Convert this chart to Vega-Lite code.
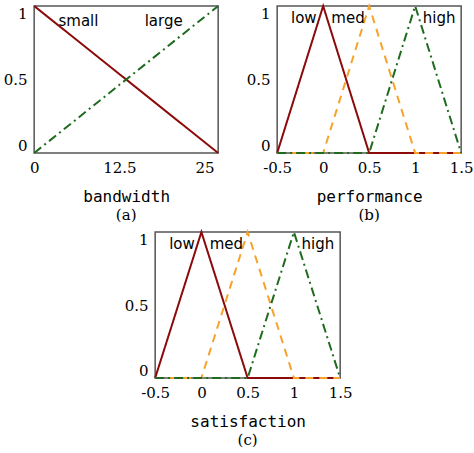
{
  "$schema": "https://vega.github.io/schema/vega-lite/v6.json",
  "padding": {"left": 2, "top": 1, "right": 4, "bottom": 0},
  "background": "white",
  "datasets": {
    "bw": [
      {"x": 0, "y": 1, "s": "small"}, {"x": 27, "y": 0, "s": "small"},
      {"x": 0, "y": 0, "s": "large"}, {"x": 27, "y": 1, "s": "large"}
    ],
    "bwlab": [
      {"x": 6.5, "y": 0.9, "t": "small"}, {"x": 19, "y": 0.9, "t": "large"}
    ],
    "tri": [
      {"x": -0.5, "y": 0, "s": "low"}, {"x": 0, "y": 1, "s": "low"}, {"x": 0.5, "y": 0, "s": "low"}, {"x": 1.5, "y": 0, "s": "low"},
      {"x": -0.5, "y": 0, "s": "med"}, {"x": 0, "y": 0, "s": "med"}, {"x": 0.5, "y": 1, "s": "med"}, {"x": 1, "y": 0, "s": "med"}, {"x": 1.5, "y": 0, "s": "med"},
      {"x": -0.5, "y": 0, "s": "high"}, {"x": 0.5, "y": 0, "s": "high"}, {"x": 1, "y": 1, "s": "high"}, {"x": 1.5, "y": 0, "s": "high"}
    ],
    "trilab": [
      {"x": -0.21, "y": 0.92, "t": "low"}, {"x": 0.27, "y": 0.92, "t": "med"}, {"x": 1.26, "y": 0.92, "t": "high"}
    ]
  },
  "config": {
    "view": {"stroke": "#555555", "strokeWidth": 1.5},
    "axis": {
      "domain": false, "ticks": false, "grid": false,
      "labelFont": "DejaVu Serif", "labelFontSize": 15, "labelColor": "black",
      "labelPadding": 7, "labelFlush": false, "labelOverlap": false,
      "labelExpr": "'' + datum.value",
      "titleFont": "DejaVu Sans Mono", "titleFontSize": 16, "titleFontWeight": "normal", "titleColor": "black",
      "titlePadding": 13
    },
    "axisY": {"labelFlush": true, "labelFlushOffset": 0},
    "title": {"font": "DejaVu Serif", "fontSize": 15, "fontWeight": "normal", "color": "black", "orient": "bottom", "offset": 4}
  },
  "center": true,
  "spacing": 3,
  "vconcat": [
    {
      "spacing": 22,
      "hconcat": [
        {
          "width": 184, "height": 147,
          "title": "(a)",
          "layer": [
            {
              "data": {"name": "bw"},
              "mark": {"type": "line", "strokeWidth": 2},
              "encoding": {
                "x": {"field": "x", "type": "quantitative", "scale": {"domain": [0, 27], "nice": false, "zero": false}, "axis": {"values": [0, 12.5, 25], "title": "bandwidth"}},
                "y": {"field": "y", "type": "quantitative", "scale": {"domain": [0, 1], "nice": false}, "axis": {"values": [0, 0.5, 1], "title": null}},
                "color": {"field": "s", "type": "nominal", "scale": {"domain": ["small", "large", "low", "med", "high"], "range": ["#8B0A0A", "#1E6B1E", "#8B0A0A", "#F7A22B", "#1E6B1E"]}, "legend": null},
                "strokeDash": {"field": "s", "type": "nominal", "scale": {"domain": ["small", "large", "low", "med", "high"], "range": [[1, 0], [9, 4, 2, 4], [1, 0], [8, 6], [9, 4, 2, 4]]}, "legend": null}
              }
            },
            {
              "data": {"name": "bwlab"},
              "mark": {"type": "text", "font": "DejaVu Sans", "fontSize": 15, "color": "black"},
              "encoding": {
                "x": {"field": "x", "type": "quantitative"},
                "y": {"field": "y", "type": "quantitative"},
                "text": {"field": "t"}
              }
            }
          ]
        },
        {
          "width": 184, "height": 147,
          "title": "(b)",
          "layer": [
            {
              "data": {"name": "tri"},
              "mark": {"type": "line", "strokeWidth": 2},
              "encoding": {
                "x": {"field": "x", "type": "quantitative", "scale": {"domain": [-0.5, 1.5], "nice": false, "zero": false}, "axis": {"values": [-0.5, 0, 0.5, 1, 1.5], "title": "performance"}},
                "y": {"field": "y", "type": "quantitative", "scale": {"domain": [0, 1], "nice": false}, "axis": {"values": [0, 0.5, 1], "title": null}},
                "color": {"field": "s", "type": "nominal", "scale": {"domain": ["small", "large", "low", "med", "high"], "range": ["#8B0A0A", "#1E6B1E", "#8B0A0A", "#F7A22B", "#1E6B1E"]}, "legend": null},
                "strokeDash": {"field": "s", "type": "nominal", "scale": {"domain": ["small", "large", "low", "med", "high"], "range": [[1, 0], [9, 4, 2, 4], [1, 0], [8, 6], [9, 4, 2, 4]]}, "legend": null}
              }
            },
            {
              "data": {"name": "trilab"},
              "mark": {"type": "text", "font": "DejaVu Sans", "fontSize": 15, "color": "black"},
              "encoding": {
                "x": {"field": "x", "type": "quantitative"},
                "y": {"field": "y", "type": "quantitative"},
                "text": {"field": "t"}
              }
            }
          ]
        }
      ]
    },
    {
      "width": 185, "height": 146,
      "title": "(c)",
      "layer": [
        {
          "data": {"name": "tri"},
          "mark": {"type": "line", "strokeWidth": 2},
          "encoding": {
            "x": {"field": "x", "type": "quantitative", "scale": {"domain": [-0.5, 1.5], "nice": false, "zero": false}, "axis": {"values": [-0.5, 0, 0.5, 1, 1.5], "title": "satisfaction"}},
            "y": {"field": "y", "type": "quantitative", "scale": {"domain": [0, 1], "nice": false}, "axis": {"values": [0, 0.5, 1], "title": null}},
            "color": {"field": "s", "type": "nominal", "scale": {"domain": ["small", "large", "low", "med", "high"], "range": ["#8B0A0A", "#1E6B1E", "#8B0A0A", "#F7A22B", "#1E6B1E"]}, "legend": null},
            "strokeDash": {"field": "s", "type": "nominal", "scale": {"domain": ["small", "large", "low", "med", "high"], "range": [[1, 0], [9, 4, 2, 4], [1, 0], [8, 6], [9, 4, 2, 4]]}, "legend": null}
          }
        },
        {
          "data": {"name": "trilab"},
          "mark": {"type": "text", "font": "DejaVu Sans", "fontSize": 15, "color": "black"},
          "encoding": {
            "x": {"field": "x", "type": "quantitative"},
            "y": {"field": "y", "type": "quantitative"},
            "text": {"field": "t"}
          }
        }
      ]
    }
  ]
}
